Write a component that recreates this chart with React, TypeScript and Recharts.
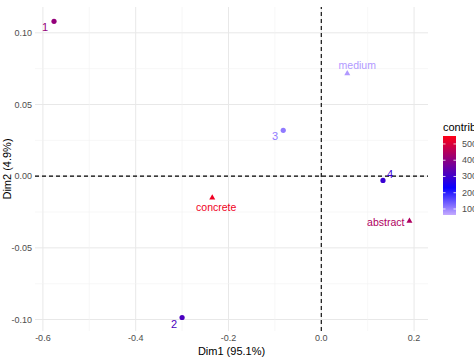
import React from "react";
import {
  ScatterChart,
  Scatter,
  XAxis,
  YAxis,
  CartesianGrid,
  ReferenceLine,
} from "recharts";

// ---- data ----
const rowNames = ["1", "2", "3", "4"];
const rowDim1 = [-0.576, -0.3, -0.082, 0.133];
const rowDim2 = [0.108, -0.0986, 0.032, -0.003];
const rowContrib = [410, 315, 110, 290];

const colNames = ["medium", "concrete", "abstract"];
const colDim1 = [0.056, -0.235, 0.19];
const colDim2 = [0.072, -0.0147, -0.031];
const colContrib = [80, 530, 445];

const xTicks = [-0.6, -0.4, -0.2, 0.0, 0.2];
const xMinor = [-0.5, -0.3, -0.1, 0.1];
const yTicks = [-0.1, -0.05, 0.0, 0.05, 0.1];
const yMinor = [-0.075, -0.025, 0.025, 0.075];
const legendTicks = [100, 200, 300, 400, 500];

// colour scale (contrib -> colour)
const scaleStops: [number, number[]][] = [
  [63, [196, 170, 255]],
  [230, [10, 0, 255]],
  [549, [255, 0, 20]],
];
const cMin = 63;
const cMax = 549;

function colorFor(v: number): string {
  let c = scaleStops[0][1];
  if (v >= scaleStops[scaleStops.length - 1][0]) c = scaleStops[scaleStops.length - 1][1];
  else {
    for (let i = 0; i < scaleStops.length - 1; i++) {
      const [a, ca] = scaleStops[i];
      const [b, cb] = scaleStops[i + 1];
      if (v >= a && v <= b) {
        const t = (v - a) / (b - a);
        c = ca.map((x, k) => Math.round(x + (cb[k] - x) * t));
        break;
      }
    }
  }
  return `rgb(${c[0]},${c[1]},${c[2]})`;
}

const rows = rowNames.map((n, i) => ({ name: n, x: rowDim1[i], y: rowDim2[i], contrib: rowContrib[i] }));
const cols = colNames.map((n, i) => ({ name: n, x: colDim1[i], y: colDim2[i], contrib: colContrib[i] }));

// label placement (style)
const labelPlace: Record<string, { dx: number; dy: number; anchor: string }> = {
  "1": { dx: -6, dy: 10, anchor: "end" },
  "2": { dx: -5, dy: 10, anchor: "end" },
  "3": { dx: -5, dy: 10, anchor: "end" },
  "4": { dx: 4, dy: -2, anchor: "start" },
  medium: { dx: 10, dy: -4, anchor: "middle" },
  concrete: { dx: 4, dy: 14, anchor: "middle" },
  abstract: { dx: -5, dy: 5, anchor: "end" },
};

const FONT = "'Liberation Sans', Arial, Helvetica, sans-serif";

const RowShape = (props: any) => {
  const { cx, cy, payload } = props;
  if (cx == null || cy == null) return null;
  const col = colorFor(payload.contrib);
  const lp = labelPlace[payload.name];
  return (
    <g>
      <circle cx={cx} cy={cy} r={2.6} fill={col} />
      <text x={cx + lp.dx} y={cy + lp.dy} fill={col} fontSize={11} fontFamily={FONT} textAnchor={lp.anchor}>
        {payload.name}
      </text>
    </g>
  );
};

const ColShape = (props: any) => {
  const { cx, cy, payload } = props;
  if (cx == null || cy == null) return null;
  const col = colorFor(payload.contrib);
  const lp = labelPlace[payload.name];
  const s = 3;
  const pts = `${cx},${cy - s} ${cx - s},${cy + s * 0.75} ${cx + s},${cy + s * 0.75}`;
  return (
    <g>
      <polygon points={pts} fill={col} />
      <text x={cx + lp.dx} y={cy + lp.dy} fill={col} fontSize={10.5} fontFamily={FONT} textAnchor={lp.anchor}>
        {payload.name}
      </text>
    </g>
  );
};

const W = 474;
const H = 358;
const PLOT_L = 35;
const PLOT_R = 428;
const PLOT_T = 7;
const PLOT_B = 331;

const fmtX = (v: number) => v.toFixed(1);
const fmtY = (v: number) => v.toFixed(2);

// legend geometry
const barX = 443;
const barW = 13;
const barTop = 136;
const barBot = 215;
const legY = (v: number) => barBot - ((v - cMin) / (cMax - cMin)) * (barBot - barTop);

export default function App() {
  return (
    <div style={{ position: "absolute", left: 0, top: 0, width: W, height: H, background: "#fff" }}>
      <ScatterChart
        width={W}
        height={H}
        margin={{ top: PLOT_T, right: W - PLOT_R, bottom: H - PLOT_B - 27, left: 0 }}
      >
        <CartesianGrid
          stroke="#e8e8e8"
          strokeWidth={1}
          verticalValues={xTicks}
          horizontalValues={yTicks}
        />
        {xMinor.map((v) => (
          <ReferenceLine key={"xm" + v} x={v} stroke="#f2f2f2" strokeWidth={0.6} />
        ))}
        {yMinor.map((v) => (
          <ReferenceLine key={"ym" + v} y={v} stroke="#f2f2f2" strokeWidth={0.6} />
        ))}
        <XAxis
          type="number"
          dataKey="x"
          domain={[-0.617, 0.23]}
          ticks={xTicks}
          tickFormatter={fmtX}
          allowDataOverflow
          axisLine={false}
          tickLine={false}
          tickSize={0}
          tickMargin={4}
          height={27}
          tick={{ fontSize: 9, fill: "#4d4d4d", fontFamily: FONT }}
        />
        <YAxis
          type="number"
          dataKey="y"
          domain={[-0.108, 0.118]}
          ticks={yTicks}
          tickFormatter={fmtY}
          allowDataOverflow
          axisLine={false}
          tickLine={false}
          tickSize={0}
          tickMargin={3}
          width={PLOT_L}
          tick={{ fontSize: 9, fill: "#4d4d4d", fontFamily: FONT }}
        />
        <ReferenceLine x={0} stroke="#000" strokeDasharray="4 3" strokeWidth={1.1} />
        <ReferenceLine y={0} stroke="#000" strokeDasharray="4 3" strokeWidth={1.1} />
        <Scatter data={rows} shape={RowShape} isAnimationActive={false} />
        <Scatter data={cols} shape={ColShape} isAnimationActive={false} />
      </ScatterChart>
      <svg
        width={W}
        height={H}
        style={{ position: "absolute", left: 0, top: 0, pointerEvents: "none" }}
      >
        <defs>
          <linearGradient id="contribGrad" x1="0" y1="1" x2="0" y2="0">
            {scaleStops.map(([v, c]) => (
              <stop
                key={v}
                offset={(v - cMin) / (cMax - cMin)}
                stopColor={`rgb(${c[0]},${c[1]},${c[2]})`}
              />
            ))}
          </linearGradient>
        </defs>
        <text
          x={(PLOT_L + PLOT_R) / 2}
          y={355}
          textAnchor="middle"
          fontSize={11}
          fontFamily={FONT}
          fill="#000"
        >
          Dim1 (95.1%)
        </text>
        <text
          transform={`translate(11, ${(PLOT_T + PLOT_B) / 2}) rotate(-90)`}
          textAnchor="middle"
          fontSize={11}
          fontFamily={FONT}
          fill="#000"
        >
          Dim2 (4.9%)
        </text>
        <text x={barX} y={131} fontSize={11} fontFamily={FONT} fill="#000">
          contrib
        </text>
        <rect x={barX} y={barTop} width={barW} height={barBot - barTop} fill="url(#contribGrad)" />
        {legendTicks.map((v) => (
          <g key={v}>
            <line x1={barX} x2={barX + 2.5} y1={legY(v)} y2={legY(v)} stroke="#fff" strokeWidth={0.8} />
            <line x1={barX + barW - 2.5} x2={barX + barW} y1={legY(v)} y2={legY(v)} stroke="#fff" strokeWidth={0.8} />
            <text x={barX + barW + 6} y={legY(v) + 3} fontSize={9} fontFamily={FONT} fill="#4d4d4d">
              {v}
            </text>
          </g>
        ))}
      </svg>
    </div>
  );
}
